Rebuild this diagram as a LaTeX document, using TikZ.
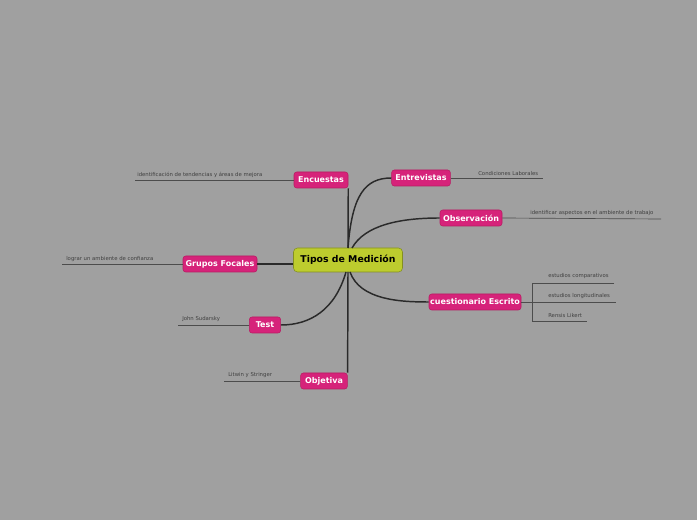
\documentclass[tikz,border=0pt]{standalone}
\usepackage{fontspec}
\setmainfont{DejaVu Sans}
\definecolor{bg}{HTML}{A0A0A0}
\definecolor{pinkc}{HTML}{D6237A}
\definecolor{pinkd}{HTML}{B81B62}
\definecolor{greenc}{HTML}{BDCC2E}
\definecolor{lin}{HTML}{2A2A2A}
\begin{document}
\begin{tikzpicture}[x=0.75pt,y=-0.75pt,
  topic/.style={draw=pinkd,fill=pinkc,rounded corners=2pt,text=white,font=\bfseries\fontsize{6}{7}\selectfont,inner sep=0pt,minimum height=12pt},
  leaf/.style={font=\fontsize{4}{5}\selectfont,text=black!75,inner sep=0pt,anchor=south west},
  conn/.style={draw=lin,line width=1.1pt},
  lline/.style={draw=black!70,line width=0.5pt}]
\fill[bg] (0,0) rectangle (697,520);
\useasboundingbox (0,0) rectangle (697,520);
\node[draw=greenc!70!black,fill=greenc,rounded corners=3pt,font=\bfseries\fontsize{7}{8}\selectfont,inner sep=0pt,minimum width=81.75pt,minimum height=18pt] (c) at (348,260) {Tipos de Medición};
\node[topic,minimum width=40.5pt] (enc) at (321,180) {Encuestas};
\node[topic,minimum width=44pt] (ent) at (421,178) {Entrevistas};
\node[topic,minimum width=46.5pt] (obs) at (471,218) {Observación};
\node[topic,minimum width=55.5pt] (gru) at (220,264) {Grupos Focales};
\node[topic,minimum width=23.5pt] (tes) at (265,325) {Test};
\node[topic,minimum width=35pt] (obj) at (324,381) {Objetiva};
\node[topic,minimum width=69pt] (cue) at (475,302) {cuestionario Escrito};
% connectors
\draw[conn] (c.center) ++(0,-12) -- (enc.south east);
\draw[conn] (348,248) .. controls (352,195) and (365,178) .. (ent.west);
\draw[conn] (352,248) .. controls (365,225) and (400,218) .. (obs.west);
\draw[conn] (gru.east) -- (gru.east -| c.west);
\draw[conn] (346,272) .. controls (335,310) and (310,325) .. (tes.east);
\draw[conn] (348,272) -- (obj.north east);
\draw[conn] (350,272) .. controls (360,300) and (400,302) .. (cue.west);
% leaves
\coordinate (l1) at (135,180); \draw[lline] (enc.west) -- (l1);
\node[leaf] (t1) at (137,177.5) {identificación de tendencias y áreas de mejora};
\coordinate (l2) at (543,178); \draw[lline] (ent.east) -- (l2);
\node[leaf] (t2) at (478,175.5) {Condiciones Laborales};
\coordinate (l3) at (661,219); \draw[lline] (obs.east) -- (l3);
\node[leaf] (t3) at (530,216) {identificar aspectos en el ambiente de trabajo};
\coordinate (l4) at (62,264); \draw[lline] (gru.west) -- (l4);
\node[leaf] (t4) at (66,261.5) {lograr un ambiente de confianza};
\coordinate (l5) at (178,325); \draw[lline] (tes.west) -- (l5);
\node[leaf] (t5) at (182,322) {John Sudarsky};
\coordinate (l6) at (224,381); \draw[lline] (obj.west) -- (l6);
\node[leaf] (t6) at (228,378) {Litwin y Stringer};
\coordinate (b) at (532,302);
\draw[lline] (cue.east) -- (b);
\draw[lline] (614,283) -- (532,283) -- (532,321) -- (587,321);
\draw[lline] (b) -- (616,302);
\node[leaf] (t7) at (548,279) {estudios comparativos};
\node[leaf] (t8) at (548,298.5) {estudios longitudinales};
\node[leaf] (t9) at (548,318) {Rensis Likert};
\end{tikzpicture}
\end{document}
